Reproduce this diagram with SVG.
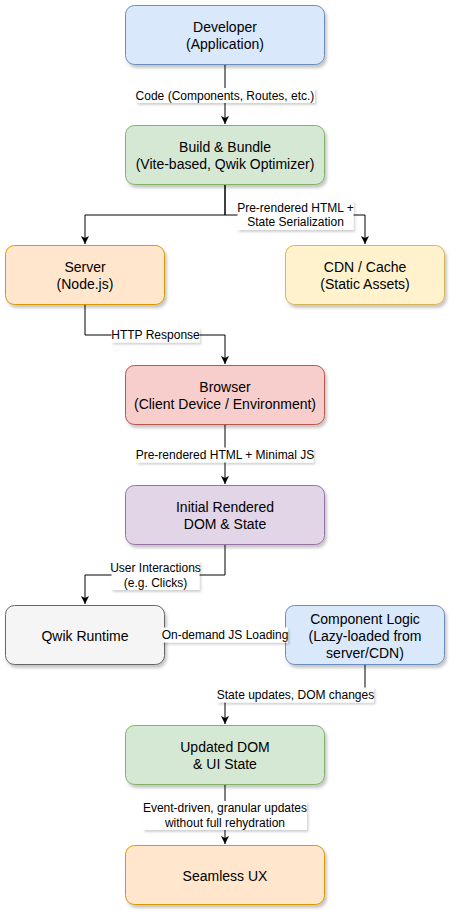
<svg xmlns="http://www.w3.org/2000/svg" width="457" height="917" viewBox="0 0 457 917">
<defs>
<filter id="sh" x="-10%" y="-10%" width="130%" height="140%">
<feDropShadow dx="2" dy="3" stdDeviation="1.5" flood-color="#000" flood-opacity="0.22"/>
</filter>
<filter id="lsh" x="-10%" y="-20%" width="130%" height="160%">
<feDropShadow dx="1.5" dy="2" stdDeviation="1" flood-color="#000" flood-opacity="0.18"/>
</filter>
<marker id="arr" markerWidth="9" markerHeight="8" refX="8" refY="4" orient="auto" markerUnits="userSpaceOnUse">
<path d="M0,0 L8,4 L0,8 L2,4 z" fill="#000"/>
</marker>
</defs>
<style>
.n{stroke-width:1;filter:url(#sh)}
.t{font-family:"Liberation Sans",Helvetica,Arial,sans-serif;font-size:14px;fill:#000;text-anchor:middle;dominant-baseline:central}
.l{font-family:"Liberation Sans",Helvetica,Arial,sans-serif;font-size:12px;fill:#000;text-anchor:middle;dominant-baseline:central}
.c{fill:none;stroke:#000;stroke-width:1}
.lb{fill:#fff;filter:url(#lsh)}
</style>
<rect width="457" height="917" fill="#fff"/>
<g id="connectors">
<path class="c" d="M225,65 V124" marker-end="url(#arr)"/>
<path class="c" d="M225,185 V215 H85 V244" marker-end="url(#arr)"/>
<path class="c" d="M225,185 V215 H365 V244" marker-end="url(#arr)"/>
<path class="c" d="M85,305 V335 H225 V364" marker-end="url(#arr)"/>
<path class="c" d="M225,425 V484" marker-end="url(#arr)"/>
<path class="c" d="M225,545 V575 H85 V604" marker-end="url(#arr)"/>
<path class="c" d="M165,635 H284" marker-end="url(#arr)"/>
<path class="c" d="M365,665 V695 H225 V724" marker-end="url(#arr)"/>
<path class="c" d="M225,785 V844" marker-end="url(#arr)"/>
</g>
<g id="developer">
<rect class="n" x="125.5" y="5.5" width="199" height="59" rx="9" fill="#dae8fc" stroke="#6c8ebf"/>
<text class="t" x="225" y="27">Developer</text>
<text class="t" x="225" y="44">(Application)</text>
</g>
<g id="build">
<rect class="n" x="125.5" y="125.5" width="199" height="59" rx="9" fill="#d5e8d4" stroke="#82b366"/>
<text class="t" x="225" y="147">Build &amp; Bundle</text>
<text class="t" x="225" y="164">(Vite-based, Qwik Optimizer)</text>
</g>
<g id="server">
<rect class="n" x="5.5" y="245.5" width="159" height="59" rx="9" fill="#ffe6cc" stroke="#d79b00"/>
<text class="t" x="85" y="267">Server</text>
<text class="t" x="85" y="284">(Node.js)</text>
</g>
<g id="cdn">
<rect class="n" x="285.5" y="245.5" width="159" height="59" rx="9" fill="#fff2cc" stroke="#d6b656"/>
<text class="t" x="365" y="267">CDN / Cache</text>
<text class="t" x="365" y="284">(Static Assets)</text>
</g>
<g id="browser">
<rect class="n" x="125.5" y="365.5" width="199" height="59" rx="9" fill="#f8cecc" stroke="#b85450"/>
<text class="t" x="225" y="387">Browser</text>
<text class="t" x="225" y="404">(Client Device / Environment)</text>
</g>
<g id="initial">
<rect class="n" x="125.5" y="485.5" width="199" height="59" rx="9" fill="#e1d5e7" stroke="#9673a6"/>
<text class="t" x="225" y="507">Initial Rendered</text>
<text class="t" x="225" y="524">DOM &amp; State</text>
</g>
<g id="qwik">
<rect class="n" x="5.5" y="605.5" width="159" height="59" rx="9" fill="#f5f5f5" stroke="#666666"/>
<text class="t" x="85" y="635.5">Qwik Runtime</text>
</g>
<g id="component">
<rect class="n" x="285.5" y="605.5" width="159" height="59" rx="9" fill="#dae8fc" stroke="#6c8ebf"/>
<text class="t" x="365" y="618.5">Component Logic</text>
<text class="t" x="365" y="635.5">(Lazy-loaded from</text>
<text class="t" x="365" y="652.5">server/CDN)</text>
</g>
<g id="updated">
<rect class="n" x="125.5" y="725.5" width="199" height="59" rx="9" fill="#d5e8d4" stroke="#82b366"/>
<text class="t" x="225" y="747">Updated DOM</text>
<text class="t" x="225" y="764">&amp; UI State</text>
</g>
<g id="seamless">
<rect class="n" x="125.5" y="845.5" width="199" height="59" rx="9" fill="#ffe6cc" stroke="#d79b00"/>
<text class="t" x="225" y="875.5">Seamless UX</text>
</g>
<g id="labels">
<rect class="lb" x="136" y="88" width="179" height="15"/>
<text class="l" x="225" y="95.5">Code (Components, Routes, etc.)</text>
<rect class="lb" x="237.5" y="200" width="116" height="30"/>
<text class="l" x="295.5" y="208">Pre-rendered HTML +</text>
<text class="l" x="295.5" y="222">State Serialization</text>
<rect class="lb" x="111.5" y="327.5" width="88" height="15"/>
<text class="l" x="155.5" y="335">HTTP Response</text>
<rect class="lb" x="136.5" y="447.5" width="177" height="15"/>
<text class="l" x="225" y="455">Pre-rendered HTML + Minimal JS</text>
<rect class="lb" x="111.5" y="561" width="88" height="29"/>
<text class="l" x="155.5" y="568">User Interactions</text>
<text class="l" x="155.5" y="582.5">(e.g. Clicks)</text>
<rect class="lb" x="162" y="627.5" width="126" height="15"/>
<text class="l" x="225" y="635">On-demand JS Loading</text>
<rect class="lb" x="217" y="687.5" width="157" height="15"/>
<text class="l" x="295.5" y="695">State updates, DOM changes</text>
<rect class="lb" x="143" y="801" width="164" height="29"/>
<text class="l" x="225" y="808">Event-driven, granular updates</text>
<text class="l" x="225" y="822.5">without full rehydration</text>
</g>
</svg>
